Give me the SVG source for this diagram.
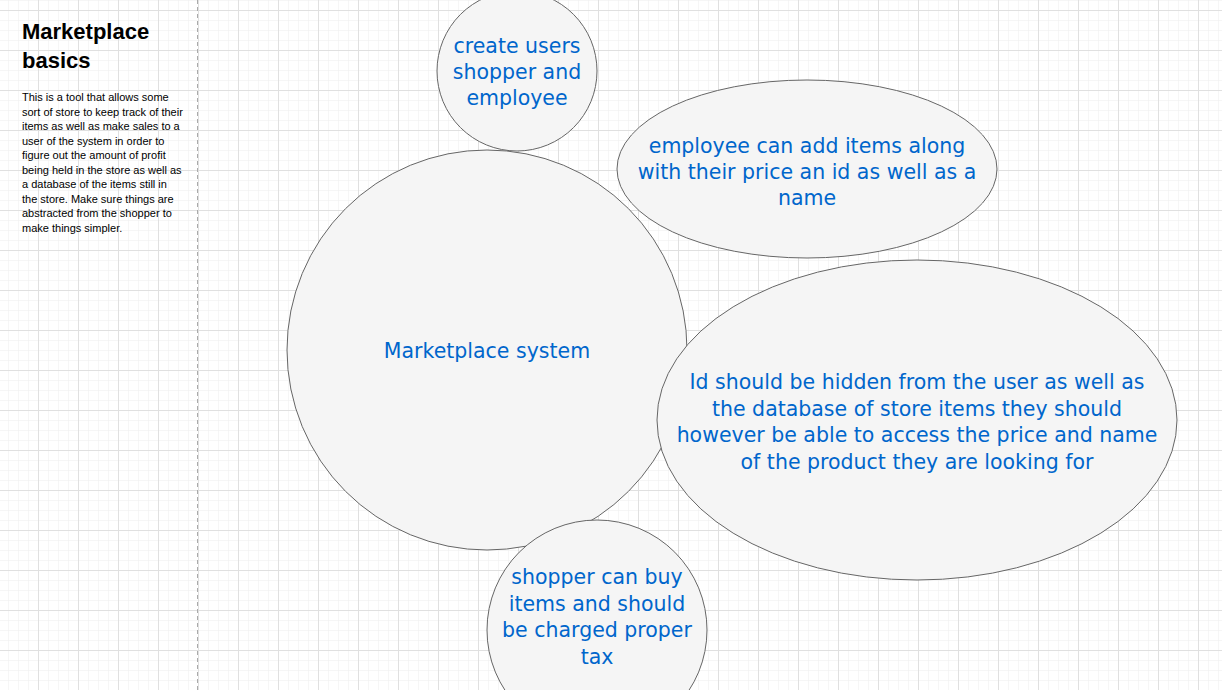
<svg xmlns="http://www.w3.org/2000/svg" width="1222" height="690" viewBox="0 0 1222 690">
<defs>
<pattern id="minor" width="10" height="10" patternUnits="userSpaceOnUse" x="-2" y="0"><path d="M0 0H10M0 0V10" fill="none" stroke="#eeeeee" stroke-width="1"/></pattern>
<pattern id="major" width="40" height="40" patternUnits="userSpaceOnUse" x="-2" y="10"><path d="M0 0.5H40M0.5 0V40" fill="none" stroke="#e0e0e0" stroke-width="1"/></pattern>
<style>
.n{fill:#f5f5f5;stroke:#666666;stroke-width:1}
.t{font-family:"DejaVu Sans",Verdana,sans-serif;font-size:20.5px;fill:#0066cc;text-anchor:middle}
.b{font-family:"Liberation Sans",Arial,sans-serif;font-size:11px;fill:#000}
</style>
</defs>
<rect width="1222" height="690" fill="#fff"/>
<rect width="1222" height="690" fill="url(#minor)"/>
<rect width="1222" height="690" fill="url(#major)"/>
<line x1="197.5" y1="0" x2="197.5" y2="690" stroke="#aaaaaa" stroke-dasharray="4 3"/>
<g id="title">
<text x="22" y="39" font-family="Liberation Sans,Arial,sans-serif" font-weight="bold" font-size="22">Marketplace</text>
<text x="22" y="68" font-family="Liberation Sans,Arial,sans-serif" font-weight="bold" font-size="22">basics</text>
<text class="b"><tspan x="22" y="101">This is a tool that allows some</tspan><tspan x="22" y="115.5">sort of store to keep track of their</tspan><tspan x="22" y="130">items as well as make sales to a</tspan><tspan x="22" y="144.5">user of the system in order to</tspan><tspan x="22" y="159">figure out the amount of profit</tspan><tspan x="22" y="173.5">being held in the store as well as</tspan><tspan x="22" y="188">a database of the items still in</tspan><tspan x="22" y="202.5">the store. Make sure things are</tspan><tspan x="22" y="217">abstracted from the shopper to</tspan><tspan x="22" y="231.5">make things simpler.</tspan></text>
</g>
<g id="connectors"></g>
<g id="create-users">
<circle class="n" cx="517" cy="71" r="80"/>
<text class="t"><tspan x="517" y="53">create users</tspan><tspan x="517" y="79">shopper and</tspan><tspan x="517" y="105">employee</tspan></text>
</g>
<g id="employee-add">
<ellipse class="n" cx="807" cy="169" rx="190" ry="89"/>
<text class="t"><tspan x="807" y="153">employee can add items along</tspan><tspan x="807" y="179">with their price an id as well as a</tspan><tspan x="807" y="205">name</tspan></text>
</g>
<g id="marketplace">
<circle class="n" cx="487" cy="350" r="200"/>
<text class="t" x="487" y="358">Marketplace system</text>
</g>
<g id="id-hidden">
<ellipse class="n" cx="917" cy="420" rx="260" ry="160"/>
<text class="t"><tspan x="917" y="389">Id should be hidden from the user as well as</tspan><tspan x="917" y="416">the database of store items they should</tspan><tspan x="917" y="442">however be able to access the price and name</tspan><tspan x="917" y="469">of the product they are looking for</tspan></text>
</g>
<g id="shopper-buy">
<circle class="n" cx="597" cy="630" r="110"/>
<text class="t"><tspan x="597" y="584">shopper can buy</tspan><tspan x="597" y="611">items and should</tspan><tspan x="597" y="637">be charged proper</tspan><tspan x="597" y="664">tax</tspan></text>
</g>
</svg>
